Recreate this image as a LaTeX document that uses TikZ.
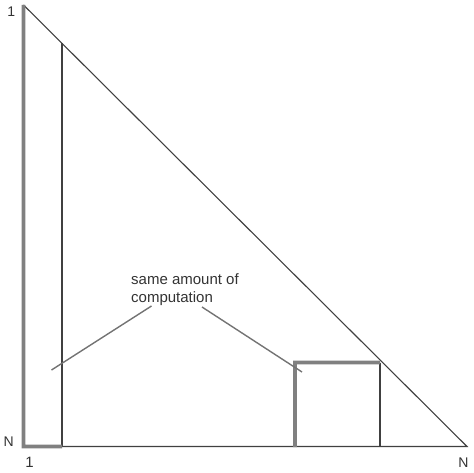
\documentclass[tikz,border=0pt]{standalone}
\usepackage{fontspec}
\setmainfont{Liberation Sans}
\begin{document}
\begin{tikzpicture}[x=1pt,y=-1pt,
  thin line/.style={draw=black!75, line width=1.1pt},
  thick part/.style={fill=black!50, draw=none},
  pointer/.style={draw=black!55, line width=1.4pt},
  axis label/.style={font=\fontsize{14}{14}\selectfont, text=black!80, inner sep=0pt},
  note/.style={font=\fontsize{15}{18}\selectfont, text=black!80, inner sep=0pt, align=left}]
\useasboundingbox (0,0) rectangle (474,473);
% corners of the triangle
\coordinate (top) at (23.5,5);
\coordinate (bl) at (23.5,446.5);
\coordinate (br) at (467,446.5);
% strip and square corners
\coordinate (stripTop) at (62,43.5);
\coordinate (stripBot) at (62,446.5);
\coordinate (sqBL) at (295,446.5);
\coordinate (sqTL) at (295,362.5);
\coordinate (sqTR) at (380,362.5);
\coordinate (sqBR) at (380,446.5);
% triangle
\draw[thin line] (top) -- (br) -- (bl);
\draw[thin line] (stripTop) -- (stripBot);
\draw[thin line] (sqTR) -- (sqBR);
% thick parts
\fill[thick part] (21.7,5) -- (25.3,5) -- (25.3,444.7) -- (62,444.7) -- (62,448.3) -- (21.7,448.3) -- cycle;
\fill[thick part] (293.2,447) -- (293.2,360.7) -- (380,360.7) -- (380,364.3) -- (296.8,364.3) -- (296.8,447) -- cycle;
% labels
\node[axis label, anchor=base] (ytop) at (11.2,17) {1};
\node[axis label, anchor=base] (ybot) at (8.7,446) {N};
\node[axis label, anchor=base, font=\fontsize{15}{15}\selectfont] (xl) at (29.5,467) {1};
\node[axis label, anchor=base] (xr) at (463.3,467) {N};
% note
\node[note, anchor=base west] (note) at (131,302) {same amount of\\computation};
\coordinate (pl1) at (151.5,306);
\coordinate (pl2) at (51.5,370);
\coordinate (pr1) at (202,307);
\coordinate (pr2) at (302,372);
\draw[pointer] (pl1) -- (pl2);
\draw[pointer] (pr1) -- (pr2);
\end{tikzpicture}
\end{document}
